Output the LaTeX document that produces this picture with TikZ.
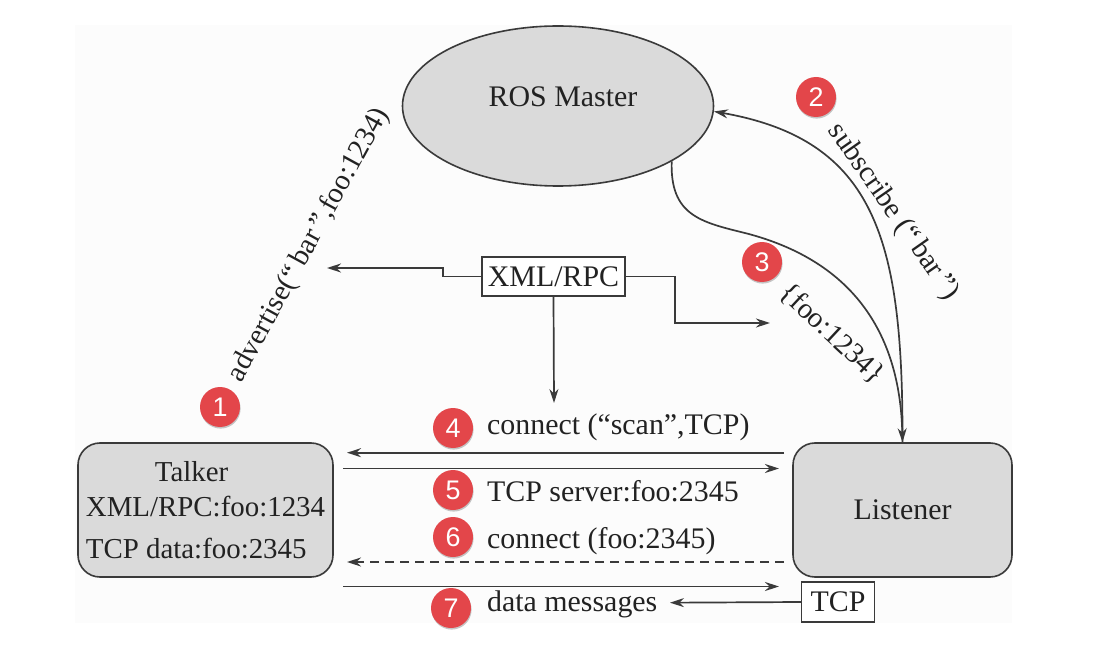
\documentclass[tikz,border=0pt]{standalone}
\usepackage{fontspec}
\setmainfont{Liberation Serif}
\newfontfamily\numfont{Liberation Sans}
\usetikzlibrary{arrows.meta,shapes.geometric,shadows}
\definecolor{boxgray}{HTML}{DADADA}
\definecolor{bggray}{HTML}{FCFCFC}
\definecolor{badgered}{HTML}{E3464A}
\definecolor{linegray}{HTML}{3A3A3A}
\definecolor{txt}{HTML}{222222}
\begin{document}
\begin{tikzpicture}[x=1bp,y=-1bp,
  every node/.style={font=\fontsize{30}{35}\selectfont, text=txt},
  conn/.style={draw=linegray, line width=1.7bp, -{Stealth[length=14bp,width=9bp]}},
  dconn/.style={conn, dash pattern=on 9bp off 6bp},
  procbox/.style={draw=linegray, line width=1.6bp, fill=boxgray, rounded corners=22bp,
    minimum height=134bp, inner sep=0},
  tagbox/.style={draw=linegray, line width=1.5bp, fill=white, inner sep=0},
  badge/.style={circle, fill=badgered, minimum size=40bp, inner sep=0, text=white,
    font=\numfont\fontsize{27}{27}\selectfont,
    drop shadow={shadow xshift=0.6bp, shadow yshift=-1.6bp, opacity=0.22, fill=black}},
  steplabel/.style={anchor=west, inner sep=0}
]
\useasboundingbox (0,0) rectangle (1095,647);
\fill[bggray] (75,25) rectangle (1012,623);

% main nodes
\node[ellipse, draw=linegray, line width=1.6bp, fill=boxgray, minimum width=311bp,
  minimum height=160bp, inner sep=0] (master) at (558,106) {};
\node[inner sep=0] (mastertext) at (563,97) {ROS Master};
\node[procbox, minimum width=255bp, align=left, font=\fontsize{29}{35}\selectfont] (talker) at (205.5,510)
  {\hspace*{69bp}Talker\\XML/RPC:foo:1234\\[7bp]TCP data:foo:2345};
\node[procbox, minimum width=219bp] (listener) at (902.5,510) {Listener};
\node[tagbox, minimum width=143bp, minimum height=39bp] (xml) at (553.5,276.5) {XML/RPC};
\node[tagbox, minimum width=73bp, minimum height=40bp] (tcp) at (838,602) {TCP};

% free ends
\coordinate (advtip) at (327,268);
\coordinate (subtip) at (770,323);
\coordinate (contip) at (554,403);
\coordinate (a4s) at (784,452.7);
\coordinate (a4e) at (347,452.7);
\coordinate (a5s) at (343,468.5);
\coordinate (a5e) at (779,468.5);
\coordinate (a6s) at (784,562);
\coordinate (a6e) at (347,562);
\coordinate (a7s) at (343,586.5);
\coordinate (a7e) at (779,586.5);
\coordinate (tcptip) at (670,602.7);

% XML/RPC connectors
\draw[conn] (xml.west) -- (443,276.5) -- (443,268) -- (advtip);
\draw[conn] (xml.east) -- (675,276.5) -- (675,323) -- (subtip);
\draw[conn] (xml.south) -- (contip);

% master curves
\draw[conn] (listener.north) .. controls (903,240) and (876,140) .. (master.-2);
\draw[conn] (master.-26) .. controls (670,215) and (700,222) .. (745,233)
  .. controls (850,260) and (900,330) .. (listener.north);

% talker/listener arrows
\draw[conn] (a4s) -- (a4e);
\draw[conn] (a5s) -- (a5e);
\draw[dconn] (a6s) -- (a6e);
\draw[conn] (a7s) -- (a7e);
\draw[conn] (tcp.west) -- (tcptip);

% curve labels
\node[rotate=61.3, inner sep=0, font=\fontsize{29}{35}\selectfont] (advlabel) at (309,245) {advertise(“\,bar\,”,foo:1234)};
\node[rotate=-55, inner sep=0, font=\fontsize{29}{35}\selectfont] (sublabel) at (893,212) {subscribe (“\,bar\,”)};
\node[rotate=-43, inner sep=0, font=\fontsize{29}{35}\selectfont] (foolabel) at (832,334) {\{foo:1234\}};

% step labels
\node[steplabel] (l4) at (487,427) {connect (“scan”,TCP)};
\node[steplabel] (l5) at (487,491) {TCP server:foo:2345};
\node[steplabel] (l6) at (487,541) {connect (foo:2345)};
\node[steplabel] (l7) at (487,604) {data messages};

% badges
\node[badge] (b1) at (220,407) {1};
\node[badge] (b2) at (816,97) {2};
\node[badge] (b3) at (762,262) {3};
\node[badge] (b4) at (453,428) {4};
\node[badge] (b5) at (453,490) {5};
\node[badge] (b6) at (453,537) {6};
\node[badge] (b7) at (451,608) {7};
\end{tikzpicture}
\end{document}
